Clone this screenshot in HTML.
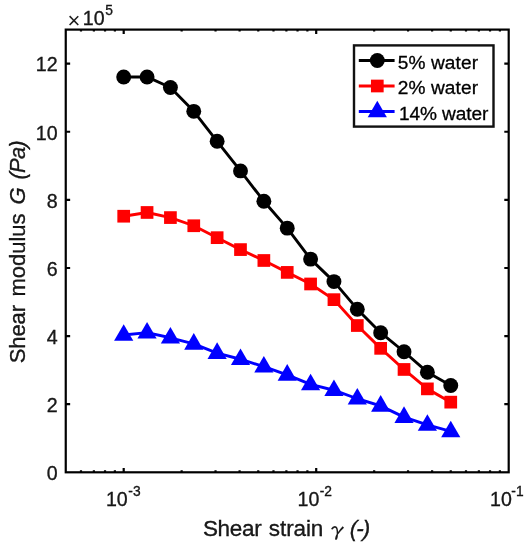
<!DOCTYPE html>
<html><head><meta charset="utf-8"><style>html,body{margin:0;padding:0;background:#fff;width:532px;height:550px;overflow:hidden}svg{display:block}text{stroke:currentColor;stroke-width:0.3px}.g{stroke:none}</style></head>
<body>
<svg width="532" height="550" viewBox="0 0 532 550">
<rect width="532" height="550" fill="#fff"/>
<path d="M65.75,404.19h4.4M508.70,404.19h-4.4M65.75,336.08h4.4M508.70,336.08h-4.4M65.75,267.98h4.4M508.70,267.98h-4.4M65.75,199.87h4.4M508.70,199.87h-4.4M65.75,131.76h4.4M508.70,131.76h-4.4M65.75,63.65h4.4M508.70,63.65h-4.4M80.99,472.30v-2.0M80.99,29.60v2.0M93.88,472.30v-2.0M93.88,29.60v2.0M105.04,472.30v-2.0M105.04,29.60v2.0M114.89,472.30v-2.0M114.89,29.60v2.0M123.70,472.30v-4.4M123.70,29.60v4.4M181.65,472.30v-2.0M181.65,29.60v2.0M215.54,472.30v-2.0M215.54,29.60v2.0M239.60,472.30v-2.0M239.60,29.60v2.0M258.25,472.30v-2.0M258.25,29.60v2.0M273.49,472.30v-2.0M273.49,29.60v2.0M286.38,472.30v-2.0M286.38,29.60v2.0M297.54,472.30v-2.0M297.54,29.60v2.0M307.39,472.30v-2.0M307.39,29.60v2.0M316.20,472.30v-4.4M316.20,29.60v4.4M374.15,472.30v-2.0M374.15,29.60v2.0M408.05,472.30v-2.0M408.05,29.60v2.0M432.10,472.30v-2.0M432.10,29.60v2.0M450.75,472.30v-2.0M450.75,29.60v2.0M465.99,472.30v-2.0M465.99,29.60v2.0M478.88,472.30v-2.0M478.88,29.60v2.0M490.04,472.30v-2.0M490.04,29.60v2.0M499.89,472.30v-2.0M499.89,29.60v2.0" stroke="#000" stroke-width="2.2" fill="none"/>
<rect x="65.75" y="29.60" width="442.95" height="442.70" fill="none" stroke="#000" stroke-width="2.2"/>
<polyline points="123.70,76.93 147.06,76.93 170.42,87.49 193.78,111.33 217.14,141.30 240.50,170.92 263.86,201.23 287.23,228.13 310.59,259.12 333.95,281.60 357.31,309.18 380.67,332.68 404.03,351.75 427.39,372.18 450.75,385.46" fill="none" stroke="#000" stroke-width="2.9" stroke-linejoin="round"/>
<polyline points="123.70,216.22 147.06,212.47 170.42,217.58 193.78,225.75 217.14,237.67 240.50,249.59 263.86,260.49 287.23,272.40 310.59,283.98 333.95,299.65 357.31,325.53 380.67,348.34 404.03,369.46 427.39,388.87 450.75,402.15" fill="none" stroke="#f00" stroke-width="2.9" stroke-linejoin="round"/>
<polyline points="123.70,335.06 147.06,332.68 170.42,337.79 193.78,343.92 217.14,353.11 240.50,359.24 263.86,366.73 287.23,374.91 310.59,384.44 333.95,390.23 357.31,398.74 380.67,405.89 404.03,417.13 427.39,424.97 450.75,431.44" fill="none" stroke="#00f" stroke-width="2.9" stroke-linejoin="round"/>
<circle cx="123.70" cy="76.93" r="7.45" fill="#000"/>
<circle cx="147.06" cy="76.93" r="7.45" fill="#000"/>
<circle cx="170.42" cy="87.49" r="7.45" fill="#000"/>
<circle cx="193.78" cy="111.33" r="7.45" fill="#000"/>
<circle cx="217.14" cy="141.30" r="7.45" fill="#000"/>
<circle cx="240.50" cy="170.92" r="7.45" fill="#000"/>
<circle cx="263.86" cy="201.23" r="7.45" fill="#000"/>
<circle cx="287.23" cy="228.13" r="7.45" fill="#000"/>
<circle cx="310.59" cy="259.12" r="7.45" fill="#000"/>
<circle cx="333.95" cy="281.60" r="7.45" fill="#000"/>
<circle cx="357.31" cy="309.18" r="7.45" fill="#000"/>
<circle cx="380.67" cy="332.68" r="7.45" fill="#000"/>
<circle cx="404.03" cy="351.75" r="7.45" fill="#000"/>
<circle cx="427.39" cy="372.18" r="7.45" fill="#000"/>
<circle cx="450.75" cy="385.46" r="7.45" fill="#000"/>
<rect x="117.35" y="209.87" width="12.7" height="12.7" fill="#f00"/>
<rect x="140.71" y="206.12" width="12.7" height="12.7" fill="#f00"/>
<rect x="164.07" y="211.23" width="12.7" height="12.7" fill="#f00"/>
<rect x="187.43" y="219.40" width="12.7" height="12.7" fill="#f00"/>
<rect x="210.79" y="231.32" width="12.7" height="12.7" fill="#f00"/>
<rect x="234.15" y="243.24" width="12.7" height="12.7" fill="#f00"/>
<rect x="257.51" y="254.14" width="12.7" height="12.7" fill="#f00"/>
<rect x="280.88" y="266.05" width="12.7" height="12.7" fill="#f00"/>
<rect x="304.24" y="277.63" width="12.7" height="12.7" fill="#f00"/>
<rect x="327.60" y="293.30" width="12.7" height="12.7" fill="#f00"/>
<rect x="350.96" y="319.18" width="12.7" height="12.7" fill="#f00"/>
<rect x="374.32" y="341.99" width="12.7" height="12.7" fill="#f00"/>
<rect x="397.68" y="363.11" width="12.7" height="12.7" fill="#f00"/>
<rect x="421.04" y="382.52" width="12.7" height="12.7" fill="#f00"/>
<rect x="444.40" y="395.80" width="12.7" height="12.7" fill="#f00"/>
<polygon points="123.70,324.26 114.10,340.86 133.30,340.86" fill="#00f"/>
<polygon points="147.06,321.88 137.46,338.48 156.66,338.48" fill="#00f"/>
<polygon points="170.42,326.99 160.82,343.59 180.02,343.59" fill="#00f"/>
<polygon points="193.78,333.12 184.18,349.72 203.38,349.72" fill="#00f"/>
<polygon points="217.14,342.31 207.54,358.91 226.74,358.91" fill="#00f"/>
<polygon points="240.50,348.44 230.90,365.04 250.10,365.04" fill="#00f"/>
<polygon points="263.86,355.93 254.26,372.53 273.46,372.53" fill="#00f"/>
<polygon points="287.23,364.11 277.62,380.71 296.83,380.71" fill="#00f"/>
<polygon points="310.59,373.64 300.99,390.24 320.19,390.24" fill="#00f"/>
<polygon points="333.95,379.43 324.35,396.03 343.55,396.03" fill="#00f"/>
<polygon points="357.31,387.94 347.71,404.54 366.91,404.54" fill="#00f"/>
<polygon points="380.67,395.09 371.07,411.69 390.27,411.69" fill="#00f"/>
<polygon points="404.03,406.33 394.43,422.93 413.63,422.93" fill="#00f"/>
<polygon points="427.39,414.17 417.79,430.77 436.99,430.77" fill="#00f"/>
<polygon points="450.75,420.64 441.15,437.24 460.35,437.24" fill="#00f"/>
<text x="57.6" y="480.10" font-family="Liberation Sans, Arial, sans-serif" font-size="19.6" fill="#1a1a1a" text-anchor="end">0</text>
<text x="57.6" y="411.99" font-family="Liberation Sans, Arial, sans-serif" font-size="19.6" fill="#1a1a1a" text-anchor="end">2</text>
<text x="57.6" y="343.88" font-family="Liberation Sans, Arial, sans-serif" font-size="19.6" fill="#1a1a1a" text-anchor="end">4</text>
<text x="57.6" y="275.78" font-family="Liberation Sans, Arial, sans-serif" font-size="19.6" fill="#1a1a1a" text-anchor="end">6</text>
<text x="57.6" y="207.67" font-family="Liberation Sans, Arial, sans-serif" font-size="19.6" fill="#1a1a1a" text-anchor="end">8</text>
<text x="57.6" y="139.56" font-family="Liberation Sans, Arial, sans-serif" font-size="19.6" fill="#1a1a1a" text-anchor="end">10</text>
<text x="57.6" y="71.45" font-family="Liberation Sans, Arial, sans-serif" font-size="19.6" fill="#1a1a1a" text-anchor="end">12</text>
<text x="105.90" y="505.50" font-family="Liberation Sans, Arial, sans-serif" font-size="19.6" fill="#1a1a1a">10</text>
<text x="128.30" y="496.00" font-family="Liberation Sans, Arial, sans-serif" font-size="13.8" fill="#1a1a1a">-3</text>
<text x="297.60" y="505.50" font-family="Liberation Sans, Arial, sans-serif" font-size="19.6" fill="#1a1a1a">10</text>
<text x="319.75" y="496.00" font-family="Liberation Sans, Arial, sans-serif" font-size="13.8" fill="#1a1a1a">-2</text>
<text x="490.00" y="505.50" font-family="Liberation Sans, Arial, sans-serif" font-size="19.6" fill="#1a1a1a">10</text>
<text x="511.35" y="496.00" font-family="Liberation Sans, Arial, sans-serif" font-size="13.8" fill="#1a1a1a">-1</text>
<text class="g" x="67.55" y="27.50" font-family="Liberation Sans, Arial, sans-serif" font-size="22.0" fill="#1a1a1a">×</text>
<text x="82.80" y="25.30" font-family="Liberation Sans, Arial, sans-serif" font-size="19.6" fill="#1a1a1a">10</text>
<text x="105.35" y="15.40" font-family="Liberation Sans, Arial, sans-serif" font-size="13.8" fill="#1a1a1a">5</text>
<text x="202.90" y="535.80" font-family="Liberation Sans, Arial, sans-serif" font-size="22.5" letter-spacing="-0.300" fill="#1a1a1a">Shear</text>
<text x="268.85" y="535.80" font-family="Liberation Sans, Arial, sans-serif" font-size="22.5" letter-spacing="-0.100" fill="#1a1a1a">strain</text>
<text class="g" x="326.60" y="537.80" font-family="IPAGothic, Liberation Serif, serif" font-size="22" fill="#1a1a1a">γ</text>
<text x="349.70" y="535.80" font-family="Liberation Sans, Arial, sans-serif" font-size="22.5" font-style="italic" letter-spacing="-1.000" fill="#1a1a1a">(-)</text>
<text transform="rotate(-90)" x="-363.30" y="24.70" font-family="Liberation Sans, Arial, sans-serif" font-size="22.0" letter-spacing="-0.100" fill="#1a1a1a">Shear</text>
<text transform="rotate(-90)" x="-296.60" y="24.70" font-family="Liberation Sans, Arial, sans-serif" font-size="22.0" fill="#1a1a1a">modulus</text>
<text transform="rotate(-90)" x="-204.55" y="24.70" font-family="Liberation Sans, Arial, sans-serif" font-size="22.0" font-style="italic" fill="#1a1a1a">G</text>
<text transform="rotate(-90)" x="-179.50" y="24.70" font-family="Liberation Sans, Arial, sans-serif" font-size="22.0" font-style="italic" letter-spacing="-0.800" fill="#1a1a1a">(Pa)</text>
<text x="397.75" y="68.70" font-family="Liberation Sans, Arial, sans-serif" font-size="19.1" letter-spacing="0.100" fill="#000">5% water</text>
<text x="397.75" y="93.70" font-family="Liberation Sans, Arial, sans-serif" font-size="19.1" letter-spacing="0.100" fill="#000">2% water</text>
<text x="398.95" y="120.00" font-family="Liberation Sans, Arial, sans-serif" font-size="19.1" letter-spacing="-0.112" fill="#000">14% water</text>
<rect x="354.0" y="45.4" width="139.5" height="81.2" fill="none" stroke="#111" stroke-width="2.4"/>
<line x1="358.8" y1="60.5" x2="394.6" y2="60.5" stroke="#000" stroke-width="2.9"/>
<circle cx="377.30" cy="60.50" r="7.45" fill="#000"/>
<line x1="358.8" y1="86.0" x2="394.6" y2="86.0" stroke="#f00" stroke-width="2.9"/>
<rect x="370.95" y="79.65" width="12.7" height="12.7" fill="#f00"/>
<line x1="358.8" y1="111.5" x2="394.6" y2="111.5" stroke="#00f" stroke-width="2.9"/>
<polygon points="377.30,100.70 367.70,117.30 386.90,117.30" fill="#00f"/>
</svg>
</body></html>
